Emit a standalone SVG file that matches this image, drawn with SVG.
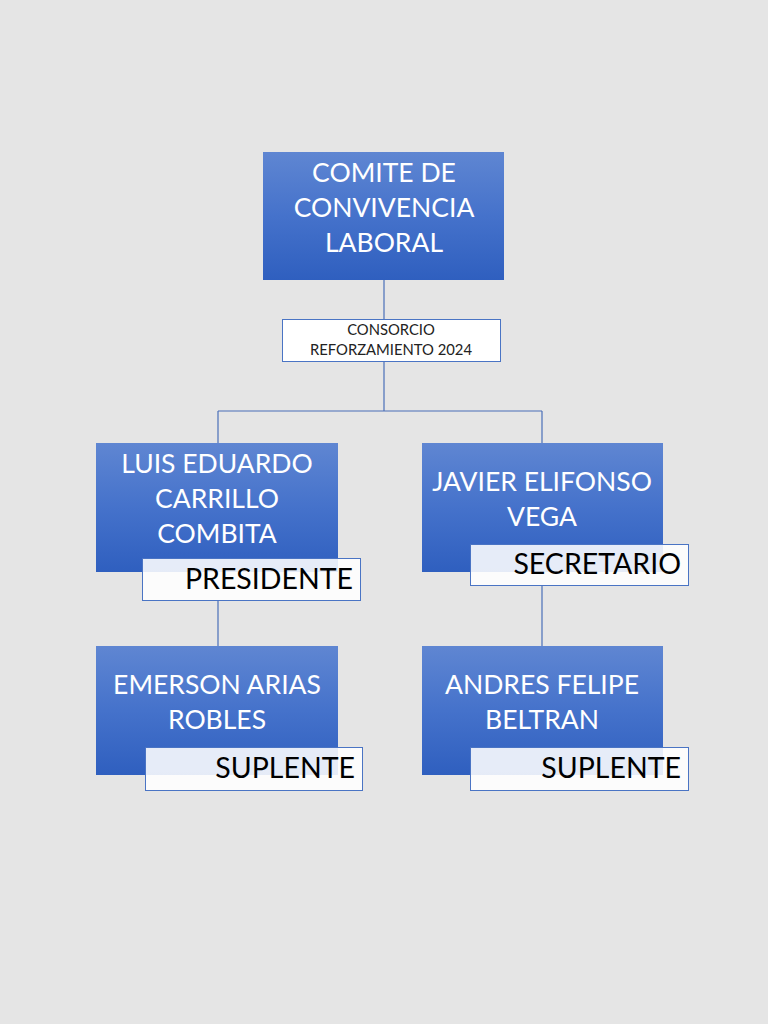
<svg xmlns="http://www.w3.org/2000/svg" width="768" height="1024" viewBox="0 0 768 1024">
<defs>
<linearGradient id="g" x1="0" y1="0" x2="0" y2="1">
<stop offset="0" stop-color="#5f86d2"/>
<stop offset="0.5" stop-color="#4572cb"/>
<stop offset="1" stop-color="#2f5fbf"/>
</linearGradient>
<style>
.node{fill:url(#g);}
.wt{font-family:Lato,"Open Sans",sans-serif;font-size:26.5px;fill:#ffffff;text-anchor:middle;}
.lbl{fill:#ffffff;fill-opacity:0.88;stroke:#4a74c4;stroke-width:1;}
.lt{font-family:Lato,"Open Sans",sans-serif;font-size:28.5px;fill:#000000;text-anchor:end;}
.con{stroke:#4a6fb8;stroke-width:1.2;fill:none;}
.ct{font-family:Lato,"Open Sans",sans-serif;font-size:14.8px;fill:#222222;text-anchor:middle;}
</style>
</defs>
<rect width="768" height="1024" fill="#e5e5e5"/>
<g id="connectors">
<path class="con" d="M384 280V319M384 361V411M218 411H542M218 411V443M542 411V443M218 600V646M542 585V646"/>
</g>
<g id="comite">
<rect class="node" x="263" y="152" width="241" height="128"/>
<text class="wt" x="384" y="182">COMITE DE</text>
<text class="wt" x="384" y="217">CONVIVENCIA</text>
<text class="wt" x="384" y="252">LABORAL</text>
</g>
<g id="consorcio">
<rect x="282.5" y="319.5" width="218" height="42" fill="#ffffff" stroke="#4a74c4" stroke-width="1"/>
<text class="ct" x="391" y="335">CONSORCIO</text>
<text class="ct" x="391" y="355">REFORZAMIENTO 2024</text>
</g>
<g id="luis">
<rect class="node" x="96" y="443" width="242" height="129"/>
<text class="wt" x="217" y="473">LUIS EDUARDO</text>
<text class="wt" x="217" y="508">CARRILLO</text>
<text class="wt" x="217" y="543">COMBITA</text>
<rect class="lbl" x="142.5" y="558.5" width="218" height="42"/>
<text class="lt" x="353" y="589">PRESIDENTE</text>
</g>
<g id="javier">
<rect class="node" x="422" y="443" width="241" height="129"/>
<text class="wt" x="542" y="491">JAVIER ELIFONSO</text>
<text class="wt" x="542" y="526">VEGA</text>
<rect class="lbl" x="470.5" y="544.5" width="218" height="41"/>
<text class="lt" x="681" y="574">SECRETARIO</text>
</g>
<g id="emerson">
<rect class="node" x="96" y="646" width="242" height="129"/>
<text class="wt" x="217" y="694">EMERSON ARIAS</text>
<text class="wt" x="217" y="729">ROBLES</text>
<rect class="lbl" x="145.5" y="747.5" width="217" height="43"/>
<text class="lt" x="355" y="778">SUPLENTE</text>
</g>
<g id="andres">
<rect class="node" x="422" y="646" width="241" height="129"/>
<text class="wt" x="542" y="694">ANDRES FELIPE</text>
<text class="wt" x="542" y="729">BELTRAN</text>
<rect class="lbl" x="470.5" y="747.5" width="218" height="43"/>
<text class="lt" x="681" y="778">SUPLENTE</text>
</g>
</svg>
